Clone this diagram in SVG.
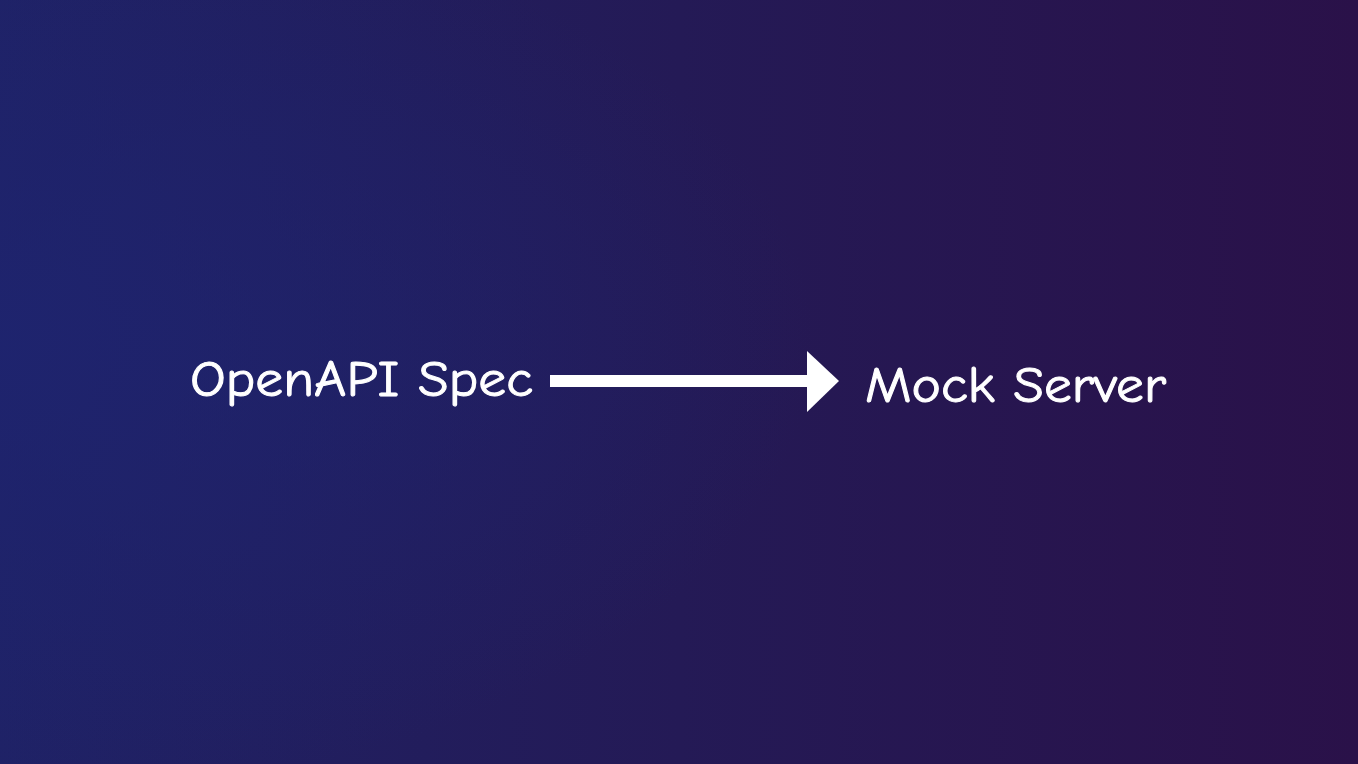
<svg xmlns="http://www.w3.org/2000/svg" width="1358" height="764" viewBox="0 0 1358 764">
<defs>
<linearGradient id="bg" x1="0" y1="0" x2="1" y2="0">
<stop offset="0" stop-color="#1f2266"/>
<stop offset="0.5" stop-color="#241a56"/>
<stop offset="1" stop-color="#2a1149"/>
</linearGradient>
<radialGradient id="glow" cx="0" cy="0.45" r="0.6">
<stop offset="0" stop-color="#1e2470" stop-opacity="0.8"/>
<stop offset="1" stop-color="#1e2470" stop-opacity="0"/>
</radialGradient>
<style>.t{font-family:"Comic Sans MS","Comic Neue","Liberation Sans",sans-serif;font-size:50px;fill:#ffffff;stroke:#ffffff;stroke-width:1}</style>
</defs>
<rect width="1358" height="764" fill="url(#bg)"/>
<rect width="1358" height="764" fill="url(#glow)"/>
<g id="node-openapi"><text class="t" x="190" y="396" textLength="343" lengthAdjust="spacingAndGlyphs">OpenAPI Spec</text></g>
<g id="node-mock"><text class="t" x="865" y="402" textLength="301" lengthAdjust="spacingAndGlyphs">Mock Server</text></g>
<g id="connectors">
<rect x="550" y="375" width="262" height="12" fill="#fff"/>
<polygon points="807,351 839,381 807,412" fill="#fff"/>
</g>
</svg>
